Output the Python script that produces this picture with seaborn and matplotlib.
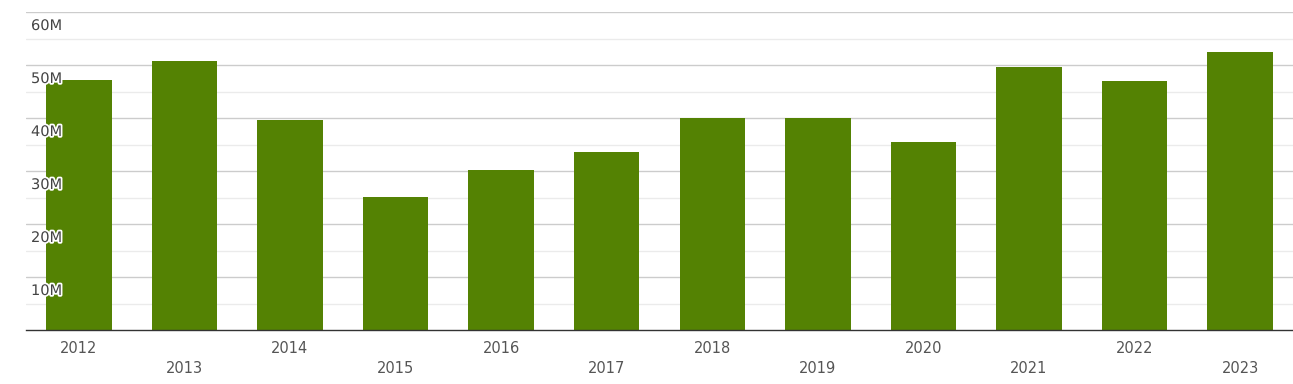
import matplotlib
matplotlib.use("Agg")
import matplotlib.pyplot as plt
import matplotlib.patheffects as pe
import seaborn as sns
import pandas as pd
import numpy as np

years = ["2012", "2013", "2014", "2015", "2016", "2017",
         "2018", "2019", "2020", "2021", "2022", "2023"]
values = [47.2, 50.75, 39.7, 25.05, 30.2, 33.6,
          40.0, 40.0, 35.4, 49.7, 47.0, 52.45]  # millions
y_ticks = [10, 20, 30, 40, 50, 60]
y_tick_labels = ["10M", "20M", "30M", "40M", "50M", "60M"]

sns.set_theme(style="white")
plt.rcParams["font.family"] = ["DejaVu Sans"]

df = pd.DataFrame({"year": years, "value": values})

fig = plt.figure(figsize=(12.93, 3.84), dpi=100)
ax = fig.add_axes([26 / 1293, 1 - 330 / 384, 1 - 26 / 1293, (330 - 12) / 384])

sns.barplot(data=df, x="year", y="value", color="#548203", width=0.62,
            saturation=1, ax=ax, zorder=3, edgecolor="none", linewidth=0)

ax.set_xlim(-0.5, len(years) - 0.5)
ax.set_ylim(0, 60)
ax.set_xlabel("")
ax.set_ylabel("")

# gridlines
ax.set_yticks(y_ticks)
ax.set_yticks(np.arange(5, 60, 10), minor=True)
ax.yaxis.grid(True, which="major", color="#cccccc", linewidth=1, zorder=0)
ax.yaxis.grid(True, which="minor", color="#ebebeb", linewidth=1, zorder=0)
ax.set_axisbelow(True)
ax.tick_params(axis="y", which="both", length=0, labelleft=False)

# staggered x labels
pos = np.arange(len(years))
ax.set_xticks(pos[::2])
ax.set_xticklabels(years[::2])
ax.set_xticks(pos[1::2], minor=True)
ax.set_xticklabels(years[1::2], minor=True)
ax.tick_params(axis="x", which="major", length=0, pad=8, labelsize=10.5, labelcolor="#555555")
ax.tick_params(axis="x", which="minor", length=0, pad=22, labelsize=10.5, labelcolor="#555555")

for s in ["top", "right", "left"]:
    ax.spines[s].set_visible(False)
ax.spines["bottom"].set_color("#333333")
ax.spines["bottom"].set_linewidth(1)
ax.spines["bottom"].set_zorder(4)

# y labels inside the plot with white halo
for v, lab in zip(y_ticks, y_tick_labels):
    ax.annotate(lab, xy=(0, v), xycoords=("axes fraction", "data"),
                xytext=(5, -6), textcoords="offset pixels",
                ha="left", va="top", fontsize=10.5, color="#444444", zorder=5,
                path_effects=[pe.withStroke(linewidth=2.5, foreground="white")])

fig.savefig("out.png", dpi=100)
